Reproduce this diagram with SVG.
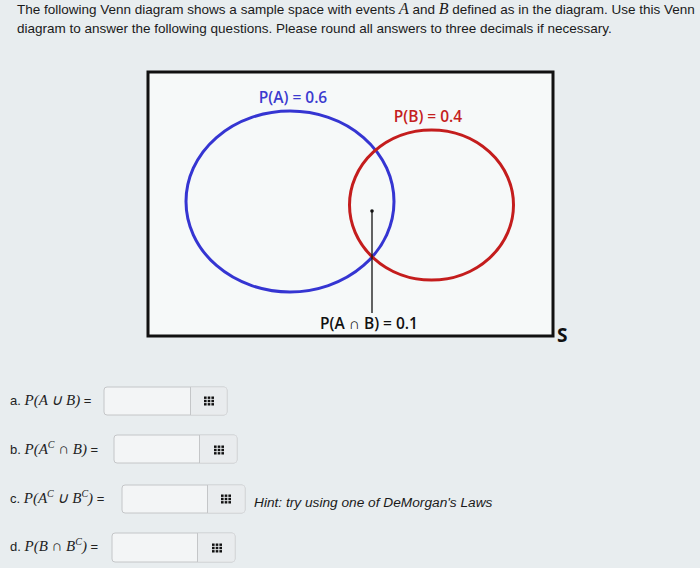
<svg xmlns="http://www.w3.org/2000/svg" width="700" height="568" viewBox="0 0 700 568">
<defs>
<style>
.hdr{font-family:"Liberation Sans",Arial,sans-serif;font-size:13.5px;fill:#1a1a1a}
.mi{font-family:"Liberation Serif","Times New Roman",serif;font-style:italic}
.lbl{font-family:"Open Sans","Liberation Sans",sans-serif;font-size:15.5px;font-weight:600}
.q{font-family:"Liberation Sans",Arial,sans-serif;font-size:13px;fill:#222}
.qm{font-family:"Liberation Serif","Times New Roman",serif;font-style:italic;font-size:15px;fill:#222}
.sup{font-size:10px}
.box{fill:#f3f5f6;stroke:#c4c6c8;stroke-width:1}
.div{stroke:#c4c6c8;stroke-width:1}
.btn{fill:#e9ecee}
</style>
<g id="grid">
<rect x="-5" y="-4.5" width="2.6" height="2.4" fill="#111"/><rect x="-1.3" y="-4.5" width="2.6" height="2.4" fill="#111"/><rect x="2.4" y="-4.5" width="2.6" height="2.4" fill="#111"/>
<rect x="-5" y="-1.2" width="2.6" height="2.4" fill="#111"/><rect x="-1.3" y="-1.2" width="2.6" height="2.4" fill="#111"/><rect x="2.4" y="-1.2" width="2.6" height="2.4" fill="#111"/>
<rect x="-5" y="2.1" width="2.6" height="2.4" fill="#111"/><rect x="-1.3" y="2.1" width="2.6" height="2.4" fill="#111"/><rect x="2.4" y="2.1" width="2.6" height="2.4" fill="#111"/>
</g>
</defs>
<rect width="700" height="568" fill="#e8edef"/>
<g id="header">
<text class="hdr" x="17" y="14">The following Venn diagram shows a sample space with events <tspan class="mi" font-size="16">A</tspan> and <tspan class="mi" font-size="16">B</tspan> defined as in the diagram. Use this Venn</text>
<text class="hdr" x="17" y="33">diagram to answer the following questions. Please round all answers to three decimals if necessary.</text>
</g>
<g id="sample-space">
<rect x="148" y="72" width="405" height="264" fill="#f6f9f9" stroke="#111" stroke-width="3"/>
<text x="557" y="342" font-family="Open Sans,Liberation Sans,sans-serif" font-size="19" font-weight="700" fill="#111">S</text>
</g>
<g id="event-A">
<ellipse cx="290" cy="201.5" rx="104" ry="90.5" fill="none" stroke="#3535d2" stroke-width="3"/>
<text class="lbl" x="293" y="103" text-anchor="middle" fill="#3b3bcf">P(A) = 0.6</text>
</g>
<g id="event-B">
<ellipse cx="431.5" cy="205" rx="82" ry="75" fill="none" stroke="#c41d1d" stroke-width="3"/>
<text class="lbl" x="428" y="122" text-anchor="middle" fill="#c42020">P(B) = 0.4</text>
</g>
<g id="intersection">
<text class="lbl" x="369" y="329" text-anchor="middle" fill="#111">P(A ∩ B) = 0.1</text>
</g>
<g id="connectors">
<line x1="372" y1="211" x2="372" y2="313" stroke="#111" stroke-width="1.3"/>
<circle cx="372" cy="211" r="1.8" fill="#111"/>
</g>
<g id="question-a">
<text x="10" y="405"><tspan class="q">a. </tspan><tspan class="qm">P(A ∪ B)</tspan><tspan class="q"> =</tspan></text>
<rect class="box" x="104" y="387" width="123" height="28" rx="3"/>
<rect class="btn" x="190.5" y="387.5" width="36" height="27"/>
<line class="div" x1="190.5" y1="387" x2="190.5" y2="415"/>
<use href="#grid" x="209" y="401"/>
</g>
<g id="question-b">
<text x="10" y="454"><tspan class="q">b. </tspan><tspan class="qm">P(A</tspan><tspan class="qm sup" dy="-6">C</tspan><tspan class="qm" dy="6"> ∩ B)</tspan><tspan class="q"> =</tspan></text>
<rect class="box" x="114" y="435" width="123" height="28" rx="3"/>
<rect class="btn" x="199.5" y="435.5" width="37" height="27"/>
<line class="div" x1="199.5" y1="435" x2="199.5" y2="463"/>
<use href="#grid" x="219" y="450"/>
</g>
<g id="question-c">
<text x="10" y="503"><tspan class="q">c. </tspan><tspan class="qm">P(A</tspan><tspan class="qm sup" dy="-6">C</tspan><tspan class="qm" dy="6"> ∪ B</tspan><tspan class="qm sup" dy="-6">C</tspan><tspan class="qm" dy="6">)</tspan><tspan class="q"> =</tspan></text>
<rect class="box" x="122" y="485" width="123" height="28" rx="3"/>
<rect class="btn" x="207.5" y="485.5" width="37" height="27"/>
<line class="div" x1="207.5" y1="485" x2="207.5" y2="513"/>
<use href="#grid" x="226" y="499"/>
<text x="254" y="507" font-family="Liberation Sans,Arial,sans-serif" font-size="13.7" font-style="italic" fill="#1a1a1a">Hint: try using one of DeMorgan's Laws</text>
</g>
<g id="question-d">
<text x="10" y="551"><tspan class="q">d. </tspan><tspan class="qm">P(B ∩ B</tspan><tspan class="qm sup" dy="-6">C</tspan><tspan class="qm" dy="6">)</tspan><tspan class="q"> =</tspan></text>
<rect class="box" x="112" y="533" width="123" height="29" rx="3"/>
<rect class="btn" x="197.5" y="533.5" width="37" height="28"/>
<line class="div" x1="197.5" y1="533" x2="197.5" y2="562"/>
<use href="#grid" x="217" y="548"/>
</g>
</svg>
